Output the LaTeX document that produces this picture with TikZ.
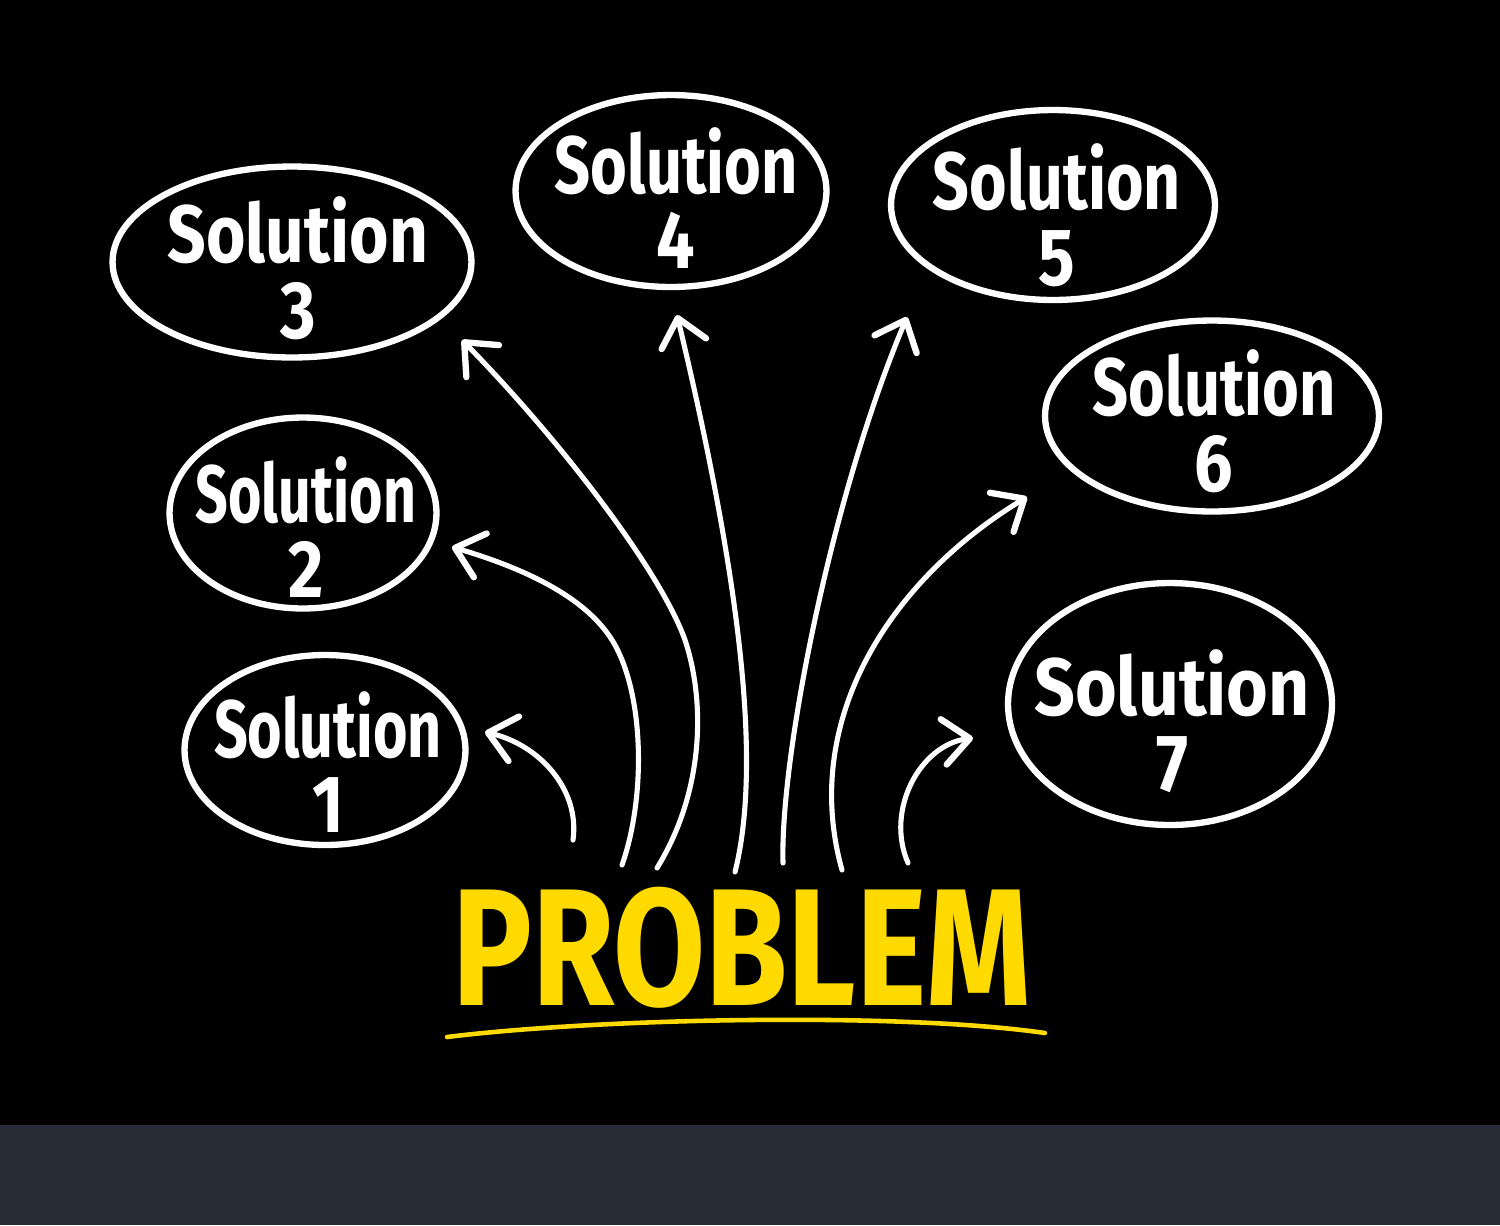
\documentclass[tikz,border=0pt]{standalone}
\usepackage{fontspec}
\setmainfont{Fira Sans}
\usetikzlibrary{shapes.geometric,arrows.meta}
\definecolor{barcol}{HTML}{272C36}
\definecolor{pyellow}{HTML}{FFDA00}
\newcommand\SolBlock[2]{\scalebox{#1}[1.25]{Solution}\\[3pt]\scalebox{1.05}[1.25]{#2}}
\begin{document}
\begin{tikzpicture}[x=0.02cm,y=-0.02cm,
  oval/.style={draw=white, line width=3.6pt, ellipse, inner sep=0pt},
  soltext/.style={text=white, font=\bfseries\fontsize{37}{40}\selectfont, inner sep=0pt, align=center},
  arr/.style={draw=white, line width=2.9pt, line cap=round,
    -{Straight Barb[length=15pt,width=26pt,line width=3.6pt,round]}}]
\useasboundingbox (0,0) rectangle (1500,1225);
\fill[black] (0,0) rectangle (1500,1125);
\fill[barcol] (0,1125) rectangle (1500,1225);

% ellipses
\node[oval, minimum width=7.18cm, minimum height=3.82cm] (e3) at (292,262) {};
\node[oval, minimum width=6.22cm, minimum height=3.84cm] (e4) at (671,191) {};
\node[oval, minimum width=6.48cm, minimum height=3.80cm] (e5) at (1053,205) {};
\node[oval, minimum width=5.34cm, minimum height=3.82cm] (e2) at (303,513) {};
\node[oval, minimum width=6.68cm, minimum height=3.82cm] (e6) at (1212,416) {};
\node[oval, minimum width=5.62cm, minimum height=3.80cm] (e1) at (325,750) {};
\node[oval, minimum width=6.48cm, minimum height=4.84cm] (e7) at (1170,704) {};

% texts
\node[soltext] (t3) at (298,268) {\SolBlock{1.04}{3}};
\node[soltext] (t4) at (676,198) {\SolBlock{0.97}{4}};
\node[soltext] (t5) at (1057,215) {\SolBlock{0.99}{5}};
\node[soltext] (t2) at (306,527) {\SolBlock{0.88}{2}};
\node[soltext] (t6) at (1214,421) {\SolBlock{0.97}{6}};
\node[soltext] (t1) at (328,762) {\SolBlock{0.91}{1}};
\node[soltext] (t7) at (1172,721) {\SolBlock{1.1}{7}};

% problem
\node[text=pyellow, font=\bfseries\fontsize{73}{80}\selectfont, inner sep=0pt] (prob) at (742,948) {\scalebox{1.04}[1.3]{PROBLEM}};
\coordinate (ul1) at (447,1037);
\coordinate (ul2) at (1045,1033);
\draw[pyellow, line width=2.6pt, line cap=round] (ul1) .. controls (600,1018) and (900,1012) .. (ul2);

% arrow ends
\coordinate (a1s) at (573,840);  \coordinate (a1e) at (485,732);
\coordinate (a2s) at (622,865);  \coordinate (a2e) at (452,547);
\coordinate (a3s) at (657,868);  \coordinate (a3e) at (462,340);
\coordinate (a4s) at (735,872);  \coordinate (a4e) at (677,315);
\coordinate (a5s) at (783,863);  \coordinate (a5e) at (907,317);
\coordinate (a6s) at (842,870);  \coordinate (a6e) at (1027,497);
\coordinate (a7s) at (908,863);  \coordinate (a7e) at (973,738);

\draw[arr] (a1s) .. controls (580,790) and (540,745) .. (a1e);
\draw[arr] (a2s) .. controls (645,800) and (645,700) .. (615,645) .. controls (590,600) and (530,570) .. (a2e);
\draw[arr] (a3s) .. controls (705,790) and (705,700) .. (685,640) .. controls (660,570) and (560,440) .. (a3e);
\draw[arr] (a4s) .. controls (758,780) and (750,620) .. (a4e);
\draw[arr] (a5s) .. controls (780,760) and (830,500) .. (a5e);
\draw[arr] (a6s) .. controls (800,720) and (890,580) .. (a6e);
\draw[arr] (a7s) .. controls (885,810) and (920,745) .. (a7e);
\end{tikzpicture}
\end{document}
